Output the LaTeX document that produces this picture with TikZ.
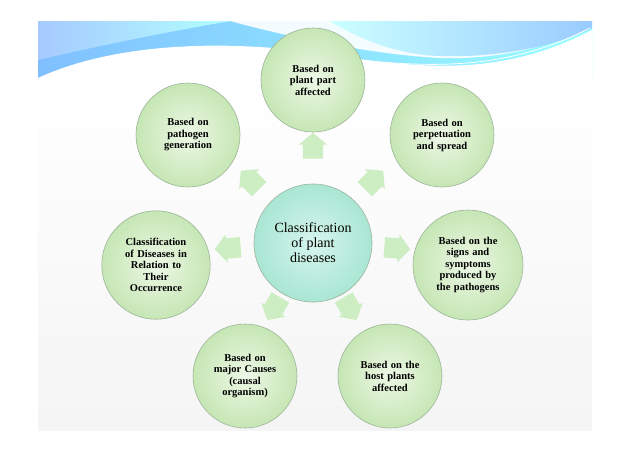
\documentclass[tikz,border=0pt]{standalone}
\usepackage{fontspec}
\setmainfont{Liberation Serif}
\usetikzlibrary{shapes.arrows,shadings}
\definecolor{ring}{HTML}{9DB59A}
\definecolor{outfill}{HTML}{EDF8E6}
\definecolor{outfill2}{HTML}{C6E6B4}
\definecolor{cfill}{HTML}{D6F5EC}
\definecolor{cfill2}{HTML}{A9E6D3}
\definecolor{arr}{HTML}{CDEDC3}
\begin{document}
\begin{tikzpicture}[x=1pt,y=-1pt,
  outer/.style={circle,minimum size=104pt,draw=ring,line width=0.6pt,inner color=outfill,outer color=outfill2,
    font=\bfseries\fontsize{10.5}{11.5}\selectfont,align=center,text width=84pt},
  center/.style={circle,minimum size=118pt,draw=ring,line width=0.6pt,inner color=cfill,outer color=cfill2,
    font=\fontsize{14}{15}\selectfont,align=center},
  ar/.style={single arrow,minimum height=26pt,single arrow head extend=4pt,
    single arrow tip angle=100,inner sep=0pt,fill=arr,draw=none}]
\useasboundingbox (0,0) rectangle (638,451);
\fill[white] (0,0) rectangle (638,451);
\shade[top color=white,bottom color=gray!8] (38,75) rectangle (592,430);
% banner
\shade[left color=cyan!50!blue!50,right color=cyan!40!white] (38,21) rectangle (592,78);
\fill[white] (38,78) .. controls (120,40) and (240,40) .. (330,55) .. controls (420,68) and (500,78) .. (592,30)
  -- (592,80) -- (38,80) -- cycle;
\fill[white,opacity=0.9] (38,21) -- (230,21) .. controls (300,40) and (380,55) .. (440,58)
  .. controls (500,60) and (560,45) .. (592,24) -- (592,21) -- cycle;
\shade[left color=cyan!40!blue!35,right color=cyan!30] (38,21) -- (230,21) .. controls (150,35) and (80,50) .. (38,60) -- cycle;
\shade[left color=cyan!20,right color=cyan!50!blue!40] (330,21) -- (592,21) -- (592,28)
  .. controls (560,45) and (500,58) .. (440,56) .. controls (400,55) and (360,40) .. (330,21) -- cycle;
\draw[white,line width=0.8pt] (45,76) .. controls (120,45) and (230,45) .. (330,57) .. controls (420,67) and (500,74) .. (590,28);
% arrows
\node[ar,rotate=90]  (a1) at (313,150) {\rule{0pt}{20pt}};
\node[ar,rotate=45]  (a2) at (371,183) {\rule{0pt}{20pt}};
\node[ar,rotate=-5]  (a3) at (393,248) {\rule{0pt}{20pt}};
\node[ar,rotate=-60] (a4) at (348,305) {\rule{0pt}{20pt}};
\node[ar,rotate=-120](a5) at (276,305) {\rule{0pt}{20pt}};
\node[ar,rotate=185] (a6) at (232,248) {\rule{0pt}{20pt}};
\node[ar,rotate=135] (a7) at (253,183) {\rule{0pt}{20pt}};
% circles
\node[center] (c) at (313,243) {Classification\\of plant\\diseases};
\node[outer] (o1) at (313,80)  {Based on\\plant part\\affected};
\node[outer] (o2) at (442,135) {Based on\\perpetuation\\and spread};
\node[outer] (o3) at (468,265) {Based on the\\signs and\\symptoms\\produced by\\the pathogens};
\node[outer] (o4) at (390,376) {Based on the\\host plants\\affected};
\node[outer] (o5) at (245,376) {Based on\\major Causes\\(causal\\organism)};
\node[outer] (o6) at (156,265) {Classification\\of Diseases in\\Relation to\\Their\\Occurrence};
\node[outer] (o7) at (188,135) {Based on\\pathogen\\generation};
\end{tikzpicture}
\end{document}
